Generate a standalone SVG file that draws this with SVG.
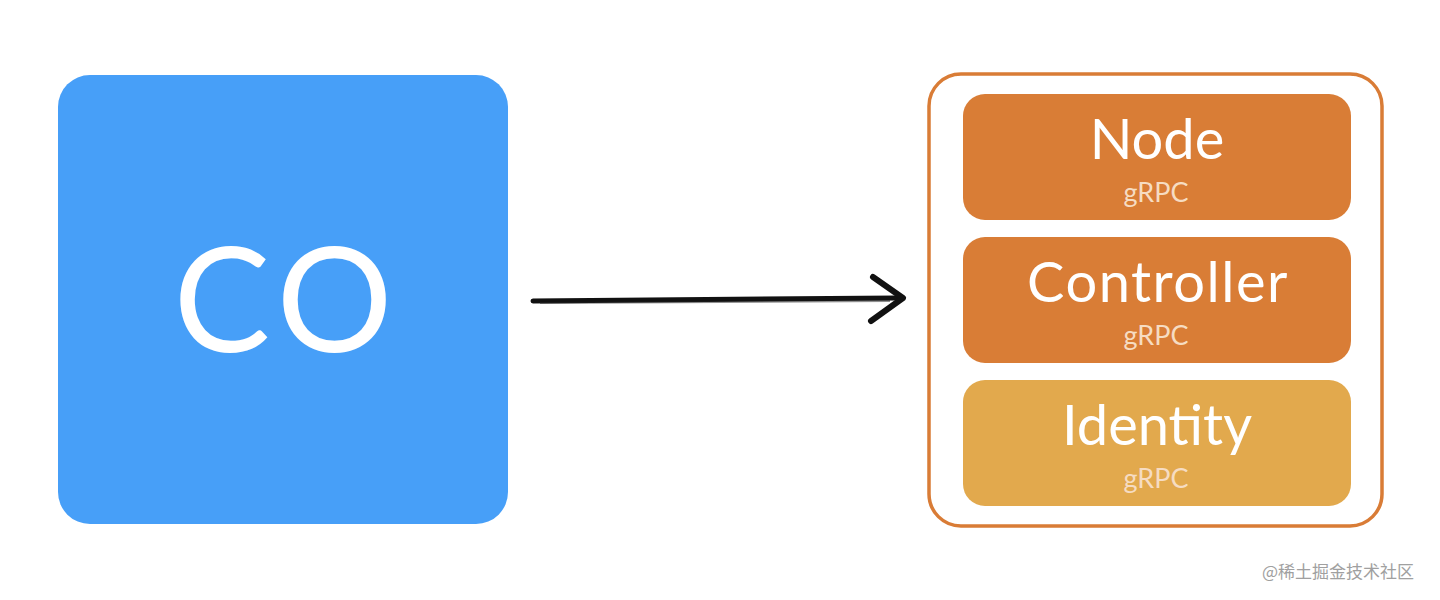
<svg xmlns="http://www.w3.org/2000/svg" width="1440" height="600" viewBox="0 0 1440 600">
<style>
.big{font-family:Lato,"Open Sans",sans-serif;fill:#ffffff;text-anchor:middle}
.sub{font-family:Lato,"Open Sans",sans-serif;fill:#f6dcc2;text-anchor:middle;font-size:27px}
.layer{stroke:none}
</style>
<rect width="1440" height="600" fill="#ffffff"/>
<g id="co">
<rect x="58" y="75" width="450" height="449" rx="32" fill="#479ff8"/>
<text class="big" x="287" y="352" font-size="145" letter-spacing="8">CO</text>
</g>
<g id="connectors">
<path d="M533 301 L897 298" stroke="#111" stroke-width="5" fill="none" stroke-linecap="round"/>
<path d="M540 303 L890 301" stroke="#222" stroke-width="2" fill="none" opacity="0.5"/>
<path d="M873 277 L903 298 L871 321" stroke="#111" stroke-width="6" fill="none" stroke-linejoin="round" stroke-linecap="round"/>
</g>
<g id="services">
<rect x="929" y="74" width="453" height="452" rx="32" fill="#ffffff" stroke="#d97c36" stroke-width="3.5"/>
<g id="node">
<rect class="layer" x="963" y="94" width="388" height="126" rx="22" fill="#d97d36"/>
<text class="big" x="1157" y="159" font-size="56">Node</text>
<text class="sub" x="1156" y="202">gRPC</text>
</g>
<g id="controller">
<rect class="layer" x="963" y="237" width="388" height="126" rx="22" fill="#d97d36"/>
<text class="big" x="1158" y="302" font-size="56" letter-spacing="1.5">Controller</text>
<text class="sub" x="1156" y="345">gRPC</text>
</g>
<g id="identity">
<rect class="layer" x="963" y="380" width="388" height="126" rx="22" fill="#e2a94d"/>
<text class="big" x="1157" y="445" font-size="56">Identity</text>
<text class="sub" x="1156" y="488">gRPC</text>
</g>
</g>
<text x="1262" y="578" font-family="'Noto Sans CJK SC',sans-serif" font-size="17" fill="#a0a0a0">@稀土掘金技术社区</text>
</svg>
